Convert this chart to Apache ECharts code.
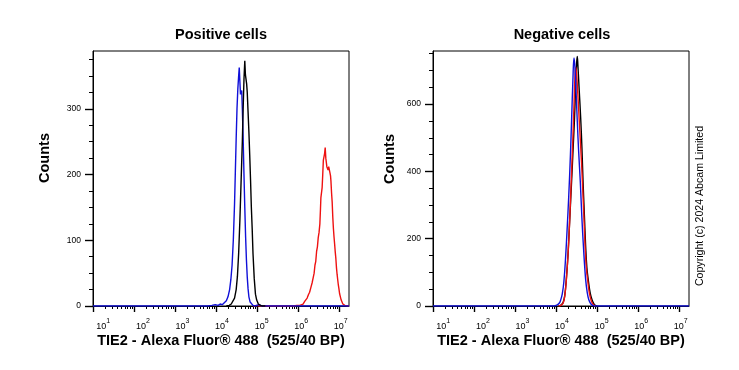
<!DOCTYPE html>
<html>
<head>
<meta charset="utf-8">
<script src="https://cdn.jsdelivr.net/npm/echarts@6/dist/echarts.min.js"></script>
<style>
html,body{margin:0;padding:0;background:#fff;}
#chart{width:739px;height:370px;}
</style>
</head>
<body>
<div id="chart"></div>
<script>
// ---------- Data (x = log10 of fluorescence intensity, y = counts) ----------
var panelTitles = ['Positive cells', 'Negative cells'];
var xAxisTitle = 'TIE2 - Alexa Fluor\u00ae 488  (525/40 BP)';
var yAxisTitle = 'Counts';
var copyrightText = 'Copyright (c) 2024 Abcam Limited';

var decadeExponents = [1, 2, 3, 4, 5, 6, 7];
var leftYTicks = [0, 100, 200, 300];
var rightYTicks = [0, 200, 400, 600];

// Positive cells
var posBlueLog = [1.0, 2.9, 2.94, 2.98, 3.8, 3.9, 3.98, 4.05, 4.1, 4.15, 4.2, 4.25, 4.29, 4.33, 4.36, 4.39, 4.42, 4.45, 4.47, 4.49, 4.51, 4.53, 4.55, 4.565, 4.58, 4.595, 4.61, 4.625, 4.64, 4.66, 4.68, 4.70, 4.72, 4.74, 4.76, 4.78, 4.80, 4.83, 4.86, 4.90, 4.95, 5.05, 5.1, 5.15, 7.24];
var posBlueCnt = [0, 0, 2, 0, 0, 1, 2, 1, 3, 2, 5, 8, 14, 25, 40, 62, 100, 155, 205, 255, 300, 330, 350, 363, 342, 322, 320, 328, 300, 255, 200, 150, 105, 70, 44, 26, 14, 6, 3, 1, 0, 2, 0, 0, 0];

var posBlackLog = [4.25, 4.32, 4.37, 4.41, 4.45, 4.49, 4.52, 4.55, 4.58, 4.61, 4.64, 4.66, 4.68, 4.70, 4.715, 4.73, 4.745, 4.76, 4.78, 4.80, 4.82, 4.84, 4.86, 4.88, 4.90, 4.93, 4.96, 4.99, 5.03, 5.07, 5.12, 5.2];
var posBlackCnt = [0, 1, 3, 6, 12, 25, 45, 80, 130, 190, 250, 300, 345, 373, 352, 350, 338, 325, 295, 265, 230, 192, 150, 118, 80, 42, 18, 9, 3, 1, 0, 0];

var posRedLog = [4.9, 5.0, 5.05, 5.8, 5.85, 5.88, 5.90, 5.93, 5.96, 6.00, 6.04, 6.08, 6.12, 6.16, 6.19, 6.22, 6.25, 6.28, 6.31, 6.34, 6.37, 6.39, 6.41, 6.43, 6.45, 6.47, 6.49, 6.51, 6.53, 6.545, 6.555, 6.57, 6.585, 6.60, 6.615, 6.63, 6.645, 6.66, 6.675, 6.69, 6.70, 6.715, 6.73, 6.745, 6.76, 6.775, 6.79, 6.80, 6.815, 6.83, 6.845, 6.86, 6.875, 6.89, 6.905, 6.92, 6.935, 6.95, 6.965, 6.98, 6.995, 7.01, 7.03, 7.05, 7.07, 7.09, 7.11, 7.14, 7.17, 7.24];
var posRedCnt = [0, 1, 0, 0, 0, 2, 0, 3, 1, 2, 1, 4, 3, 7, 9, 12, 17, 21, 28, 35, 44, 50, 62, 68, 83, 90, 104, 112, 125, 148, 165, 168, 180, 200, 222, 220, 232, 241, 225, 222, 212, 215, 207, 212, 210, 203, 198, 190, 172, 158, 135, 118, 105, 94, 82, 72, 58, 48, 40, 32, 26, 19, 14, 9, 6, 3, 2, 1, 0, 0];

// Negative cells
var negBlueLog = [1.0, 3.95, 4.02, 4.08, 4.11, 4.15, 4.19, 4.23, 4.27, 4.31, 4.35, 4.38, 4.41, 4.436, 4.46, 4.49, 4.52, 4.55, 4.59, 4.63, 4.67, 4.72, 4.76, 4.80, 4.85, 4.90, 4.95, 7.24];
var negBlueCnt = [0, 0, 3, 9, 17, 35, 72, 140, 230, 330, 450, 560, 670, 737, 710, 630, 540, 460, 370, 260, 170, 80, 40, 18, 6, 1, 0, 0];

var negBlackLog = [4.06, 4.12, 4.17, 4.21, 4.25, 4.29, 4.33, 4.38, 4.42, 4.45, 4.48, 4.50, 4.516, 4.53, 4.56, 4.60, 4.63, 4.656, 4.69, 4.72, 4.75, 4.785, 4.83, 4.88, 4.93, 4.97, 5.0];
var negBlackCnt = [0, 3, 10, 30, 80, 150, 250, 375, 480, 560, 660, 720, 742, 720, 650, 558, 470, 375, 270, 180, 115, 77, 40, 17, 5, 1, 0];

var negRedLog = [4.06, 4.12, 4.17, 4.21, 4.25, 4.29, 4.33, 4.37, 4.41, 4.44, 4.46, 4.48, 4.50, 4.53, 4.57, 4.61, 4.64, 4.68, 4.71, 4.74, 4.77, 4.81, 4.86, 4.91, 4.96];
var negRedCnt = [0, 2, 8, 28, 77, 150, 250, 375, 500, 610, 680, 710, 690, 630, 540, 450, 375, 260, 170, 110, 77, 40, 15, 4, 0];

// ---------- Build ----------
function zip(xs, ys) { return xs.map(function (x, i) { return [x, ys[i]]; }); }
var X_MIN = 1, X_MAX = 7.24;
var Y_MAX = [388, 758];
var FONT = 'Arial, "Liberation Sans", Helvetica, sans-serif';
var minorLog = [];
decadeExponents.forEach(function (n) {
  for (var k = 2; k <= 9; k++) {
    var v = n + Math.log10(k);
    if (v < X_MAX) minorLog.push(v);
  }
});
// label anchors sit slightly right of the decade ticks, as in the original plot
var LBL0 = 1.25, LBLSTEP = 0.965;
var labelPos = decadeExponents.map(function (n) { return LBL0 + LBLSTEP * (n - 1); });
function labelFmt(v) {
  var n = Math.round((v - LBL0) / LBLSTEP) + 1;
  return '{b|10}{s|' + n + '}';
}
function minorY(max, step, majors) {
  var out = [];
  for (var v = step; v < max; v += step) if (majors.indexOf(v) < 0) out.push(v);
  return out;
}

var rects = [
  { left: 93, top: 51, width: 256, height: 255 },
  { left: 433, top: 51, width: 256, height: 255 }
];
// grids 0,1 = main plots; 2,3 = minor ticks; 4,5 = decade labels (same rectangles)
var grids = [], xAxes = [], yAxes = [];
[0, 1, 2].forEach(function (layer) {
  [0, 1].forEach(function (p) {
    var gi = layer * 2 + p;
    grids.push(Object.assign({ show: layer === 0, borderColor: '#000', borderWidth: 1, backgroundColor: 'transparent', containLabel: false }, rects[p]));
    var majors = p === 0 ? leftYTicks : rightYTicks;
    var step = p === 0 ? 25 : 50;
    var ymax = Y_MAX[p];
    if (layer === 0) {
      xAxes.push({
        type: 'value', gridIndex: gi, min: X_MIN, max: X_MAX, position: 'bottom',
        axisLine: { show: true, lineStyle: { color: '#000', width: 1 } },
        axisTick: { show: true, length: 6, customValues: decadeExponents, lineStyle: { color: '#000', width: 1.4 } },
        axisLabel: { show: false }, splitLine: { show: false },
        name: xAxisTitle, nameLocation: 'middle', nameGap: 27,
        nameTextStyle: { fontFamily: FONT, fontWeight: 'bold', fontSize: 14.5, color: '#000' }
      });
      yAxes.push({
        type: 'value', gridIndex: gi, min: 0, max: ymax, position: 'left',
        axisLine: { show: true, lineStyle: { color: '#000', width: 1 } },
        axisTick: { show: true, length: 8, customValues: majors, lineStyle: { color: '#000', width: 1.4 } },
        axisLabel: { show: true, customValues: majors, margin: 12, fontFamily: FONT, fontSize: 8.5, color: '#000' },
        splitLine: { show: false }
      });
    } else if (layer === 1) {
      xAxes.push({
        type: 'value', gridIndex: gi, min: X_MIN, max: X_MAX, position: 'bottom',
        axisLine: { show: false },
        axisTick: { show: true, length: 3, customValues: minorLog, lineStyle: { color: '#000', width: 1 } },
        axisLabel: { show: false }, splitLine: { show: false }
      });
      yAxes.push({
        type: 'value', gridIndex: gi, min: 0, max: ymax, position: 'left',
        axisLine: { show: false },
        axisTick: { show: true, length: 4, customValues: minorY(ymax, step, majors), lineStyle: { color: '#000', width: 1 } },
        axisLabel: { show: false }, splitLine: { show: false }
      });
    } else {
      xAxes.push({
        type: 'value', gridIndex: gi, min: X_MIN, max: X_MAX, position: 'bottom',
        axisLine: { show: false }, axisTick: { show: false }, splitLine: { show: false },
        axisLabel: {
          show: true, customValues: labelPos, margin: 12, formatter: labelFmt,
          rich: {
            b: { fontFamily: FONT, fontSize: 9, color: '#000', lineHeight: 13, verticalAlign: 'bottom' },
            s: { fontFamily: FONT, fontSize: 7, color: '#000', lineHeight: 7, verticalAlign: 'top' }
          }
        }
      });
      yAxes.push({
        type: 'value', gridIndex: gi, min: 0, max: ymax, position: 'left', show: false
      });
    }
  });
});

function line(name, xs, ys, color, idx, smooth) {
  return {
    type: 'line', name: name, data: zip(xs, ys), xAxisIndex: idx, yAxisIndex: idx,
    showSymbol: false, symbol: 'none', smooth: smooth, animation: false, z: 5,
    lineStyle: { color: color, width: 1.4 }
  };
}

var BLUE = '#1010d8', RED = '#ee1111', BLACK = '#000000';
var series = [
  line('pos-red', posRedLog, posRedCnt, RED, 0, false),
  line('pos-blue', posBlueLog, posBlueCnt, BLUE, 0, false),
  line('pos-black', posBlackLog, posBlackCnt, BLACK, 0, false),
  line('neg-black', negBlackLog, negBlackCnt, BLACK, 1, 0.4),
  line('neg-red', negRedLog, negRedCnt, RED, 1, 0.4),
  line('neg-blue', negBlueLog, negBlueCnt, BLUE, 1, 0.4)
];

var boldText = { fontFamily: FONT, fontWeight: 'bold', fontSize: 14.5, fill: '#000', align: 'center', verticalAlign: 'middle' };
function txt(x, y, s, style, rot) {
  return { type: 'text', x: x, y: y, rotation: rot || 0, style: Object.assign({ text: s }, style) };
}

var chart = echarts.init(document.getElementById('chart'), null, { renderer: 'canvas' });
chart.setOption({
  animation: false,
  backgroundColor: '#fff',
  grid: grids,
  xAxis: xAxes,
  yAxis: yAxes,
  series: series,
  graphic: [
    txt(221, 35, panelTitles[0], boldText),
    txt(562, 35, panelTitles[1], boldText),
    txt(45, 158, yAxisTitle, boldText, Math.PI / 2),
    txt(390, 159, yAxisTitle, boldText, Math.PI / 2),
    txt(700, 206, copyrightText, { fontFamily: FONT, fontSize: 10.6, fill: '#000', align: 'center', verticalAlign: 'middle' }, Math.PI / 2)
  ]
});
</script>
</body>
</html>
